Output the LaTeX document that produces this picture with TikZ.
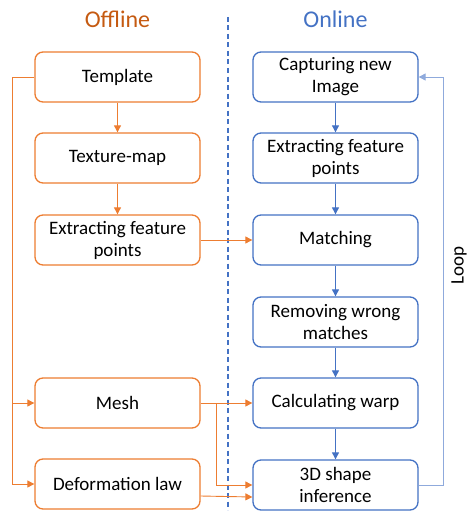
\documentclass[tikz,border=0pt]{standalone}
\usepackage{fontspec}
\setmainfont{Carlito}
\usetikzlibrary{arrows.meta}
\definecolor{offorange}{HTML}{ED7D31}
\definecolor{offtitle}{HTML}{C55A11}
\definecolor{onblue}{HTML}{4472C4}
\definecolor{loopblue}{HTML}{8FAADC}
\tikzset{
	stagebox/.style={rounded corners=8pt, line width=1.3pt, fill=white,
		minimum width=165pt, minimum height=50pt, inner sep=2pt, align=center,
		font=\fontsize{19}{22}\selectfont},
	offbox/.style={stagebox, draw=offorange},
	onbox/.style={stagebox, draw=onblue},
	offarr/.style={draw=offorange, line width=0.9pt, -{Triangle[length=7pt,width=7pt]}},
	onarr/.style={draw=onblue, line width=0.9pt, -{Triangle[length=7pt,width=7pt]}},
	looparr/.style={draw=loopblue, line width=1pt, -{Triangle[length=7pt,width=7pt]}},
	coltitle/.style={font=\fontsize{24}{26}\selectfont}
}
\begin{document}
\begin{tikzpicture}[x=1pt,y=-1pt]
		\useasboundingbox (0,0) rectangle (474,527);
		
		% separation offline / online
		\draw[onblue, line width=1.6pt, dash pattern=on 5pt off 3.5pt] (228,17) -- (228,510);
		\node[coltitle, text=offtitle] (offt) at (117.5,19) {Offline};
		\node[coltitle, text=onblue] (ont) at (335.5,19) {Online};
		
		%offline column
		\node[offbox] (tmpl) at (117.5,77) {Template};
		\node[offbox] (texmap) at (117.5,158) {Texture-map};
		\node[offbox] (featoff) at (117.5,240) {Extracting feature\\points};
		\node[offbox] (mesh) at (117.5,403) {Mesh};
		\node[offbox] (deflaw) at (117.5,484) {Deformation law};
		
		%online column
		\node[onbox] (capt) at (335.5,77) {Capturing new\\Image};
		\node[onbox] (feaon) at (335.5,158) {Extracting feature\\points};
		\node[onbox] (match) at (335.5,240) {Matching};
		\node[onbox] (remov) at (335.5,322) {Removing wrong\\matches};
		\node[onbox] (warp) at (335.5,403) {Calculating warp};
		\node[onbox] (shape) at (335.5,485) {3D shape\\inference};
		
		\draw[offarr] (tmpl) -- (texmap);
		\draw[offarr] (texmap) -- (featoff);
		\draw[offarr] (featoff) -- (match);
		\draw[offarr] (mesh) -- (warp);
		\coordinate (mjoin) at (216,403);
		\draw[offarr] (mjoin) |- (shape.west);
		\draw[offarr] ([yshift=-12pt]deflaw.east) -- ([yshift=-12pt]shape.west);
		\coordinate (lside) at (12,77);
		\draw[offarr] (tmpl.west) -- (lside) |- (deflaw.west);
		\draw[offarr] (lside |- mesh) -- (mesh.west);
		
		\foreach \a/\b in {capt/feaon, feaon/match, match/remov, remov/warp, warp/shape}
		\draw[onarr] (\a) -- (\b);
		
		\coordinate (lpcorner) at (443,485);
		\draw[looparr] (shape.east) -- (lpcorner) |- (capt.east);
		\node[rotate=90, font=\fontsize{19}{20}\selectfont] (looplab) at (459,265) {Loop};
\end{tikzpicture}
\end{document}
